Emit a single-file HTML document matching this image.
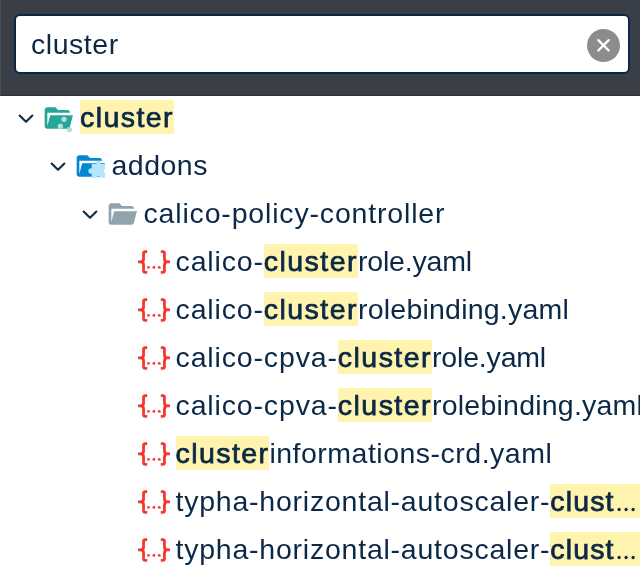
<!DOCTYPE html>
<html><head><meta charset="utf-8">
<style>
html,body{margin:0;padding:0;}
body{width:640px;height:576px;overflow:hidden;background:#fff;position:relative;font-family:"Liberation Sans",sans-serif;color:#0b2846;}
#hdr{position:absolute;left:0;top:0;width:640px;height:95px;background:#3a3e46;}
#hdrline{position:absolute;left:0;top:95px;width:640px;height:1px;background:#2e3137;}
#hdrl{position:absolute;left:0;top:0;width:1px;height:95px;background:#4b4f54;}
#inp{position:absolute;left:14px;top:14px;width:611.6px;height:55.5px;border:2px solid #0a2846;border-radius:6px;background:#fff;}
#q{will-change:transform;position:absolute;left:31.27px;top:27px;font-size:28.5px;line-height:34px;letter-spacing:0.535px;white-space:nowrap;}
#clr{position:absolute;left:587px;top:29px;width:33px;height:33px;border-radius:50%;background:#8c8c8c;}
.row{position:absolute;left:0;width:640px;height:48px;will-change:transform;}
.chev{position:absolute;top:0;width:20px;height:48px;}
.ic{position:absolute;width:32px;height:32px;}
.t{position:absolute;top:4.2px;font-size:28.5px;line-height:34px;white-space:nowrap;}
.t b{font-weight:400;-webkit-text-stroke:0.75px #0b2846;background:#fff4af;display:inline-block;vertical-align:top;margin-top:-0.7px;padding-top:0.7px;height:34px;box-sizing:border-box;}
.t i{font-style:normal;}
</style></head><body>
<div id="hdr"></div>
<div id="hdrline"></div>
<div id="hdrl"></div>
<div id="inp"></div>
<div id="q">cluster</div>
<div id="clr"><svg width="33" height="33" viewBox="0 0 33 33"><path d="M11.3 11.1L21.7 21.5M21.7 11.1L11.3 21.5" stroke="#fff" stroke-width="2.3" stroke-linecap="round"/></svg></div>
<svg width="0" height="0" style="position:absolute">
<defs>
<path id="fo" d="M19 20H4a2 2 0 0 1-2-2V6c0-1.11.89-2 2-2h6l2 2h7a2 2 0 0 1 2 2H4v10l2.14-8h17.07l-2.28 8.5c-.23.87-1.01 1.5-1.93 1.5z"/>
<g id="ybr">
 <path d="M9.2 4.15H7.2Q4.15 4.15 4.15 7.2V12.6Q4.15 14.6 2.4 14.6H0V17.3H2.4Q4.15 17.3 4.15 19.3V24.8Q4.15 27.85 7.2 27.85H9.2V25.05H7.8Q6.95 25.05 6.95 24.2V18.7Q6.95 16.8 6.1 15.95Q6.95 15.1 6.95 13.2V7.8Q6.95 6.95 7.8 6.95H9.2Z" fill="#f23b2f"/>
 <path d="M9.2 4.15H7.2Q4.15 4.15 4.15 7.2V12.6Q4.15 14.6 2.4 14.6H0V17.3H2.4Q4.15 17.3 4.15 19.3V24.8Q4.15 27.85 7.2 27.85H9.2V25.05H7.8Q6.95 25.05 6.95 24.2V18.7Q6.95 16.8 6.1 15.95Q6.95 15.1 6.95 13.2V7.8Q6.95 6.95 7.8 6.95H9.2Z" transform="translate(32 0) scale(-1 1)" fill="#f23b2f"/>
 <circle cx="10.5" cy="21.4" r="1.35" fill="#f23b2f"/>
 <circle cx="15.9" cy="21.4" r="1.35" fill="#f23b2f"/>
 <circle cx="21.3" cy="21.4" r="1.35" fill="#f23b2f"/>
</g>
</defs>
</svg>
<div class="row" style="top:96px">
 <svg class="chev" style="left:0;width:40px" viewBox="0 0 40 48"><path d="M19.6 19.5L26.0 25.7L32.4 19.5" fill="none" stroke="#0b2846" stroke-width="2.05" stroke-linecap="round" stroke-linejoin="round"/></svg>
 <svg class="ic" style="left:42px;top:6px" viewBox="0 0 24 24"><use href="#fo" fill="#26a69a"/><circle cx="16.5" cy="13" r="2" fill="#b2dfdb"/><circle cx="13.8" cy="18.2" r="2" fill="#b2dfdb"/><circle cx="20.5" cy="20.7" r="2" fill="#b2dfdb"/></svg>
 <div class="t" id="r0" style="left:80px"><b style="letter-spacing:1.437px">cluster</b></div>
</div>
<div class="row" style="top:144px">
 <svg class="chev" style="left:0;width:72px" viewBox="0 0 72 48"><path d="M51.6 19.5L58.0 25.7L64.4 19.5" fill="none" stroke="#0b2846" stroke-width="2.05" stroke-linecap="round" stroke-linejoin="round"/></svg>
 <svg class="ic" style="left:74px;top:6px" viewBox="0 0 32 32"><use href="#fo" fill="#0288d1" transform="scale(1.3333)"/><path fill="#b3e5fc" d="M17.7 14.1H22.4A2.3 2.3 0 1 1 26.4 14.1H31.1V19.3A1.6 1.6 0 0 0 31.1 22.7V27.7H26.2A1.8 1.8 0 0 0 22.6 27.7H17.7V23.6A2.7 2.7 0 1 1 17.7 18.4Z"/></svg>
 <div class="t" id="r1" style="left:111.43px"><i style="letter-spacing:0.502px">addons</i></div>
</div>
<div class="row" style="top:192px">
 <svg class="chev" style="left:0;width:104px" viewBox="0 0 104 48"><path d="M83.6 19.5L90.0 25.7L96.4 19.5" fill="none" stroke="#0b2846" stroke-width="2.05" stroke-linecap="round" stroke-linejoin="round"/></svg>
 <svg class="ic" style="left:106px;top:6px" viewBox="0 0 24 24"><use href="#fo" fill="#90a4ae"/></svg>
 <div class="t" id="r2" style="left:143.56px"><i style="letter-spacing:0.826px">calico-policy-controller</i></div>
</div>
<div class="row" style="top:240px">
 <svg class="ic" style="left:138px;top:6px" viewBox="0 0 32 32"><use href="#ybr"/></svg>
 <div class="t" id="f0" style="left:175.55px"><i style="letter-spacing:0.836px">calico-</i><b style="letter-spacing:1.467px">cluster</b><i style="letter-spacing:-0.180px">role.yaml</i></div>
</div>
<div class="row" style="top:288px">
 <svg class="ic" style="left:138px;top:6px" viewBox="0 0 32 32"><use href="#ybr"/></svg>
 <div class="t" id="f1" style="left:175.55px"><i style="letter-spacing:0.836px">calico-</i><b style="letter-spacing:1.467px">cluster</b><i style="letter-spacing:0.221px">rolebinding.yaml</i></div>
</div>
<div class="row" style="top:336px">
 <svg class="ic" style="left:138px;top:6px" viewBox="0 0 32 32"><use href="#ybr"/></svg>
 <div class="t" id="f2" style="left:175.55px"><i style="letter-spacing:0.851px">calico-cpva-</i><b style="letter-spacing:1.467px">cluster</b><i style="letter-spacing:-0.180px">role.yaml</i></div>
</div>
<div class="row" style="top:384px">
 <svg class="ic" style="left:138px;top:6px" viewBox="0 0 32 32"><use href="#ybr"/></svg>
 <div class="t" id="f3" style="left:175.55px"><i style="letter-spacing:0.851px">calico-cpva-</i><b style="letter-spacing:1.467px">cluster</b><i style="letter-spacing:0.221px">rolebinding.yaml</i></div>
</div>
<div class="row" style="top:432px">
 <svg class="ic" style="left:138px;top:6px" viewBox="0 0 32 32"><use href="#ybr"/></svg>
 <div class="t" id="f4" style="left:175.6px"><b style="letter-spacing:1.406px">cluster</b><i style="letter-spacing:0.497px">informations-crd.yaml</i></div>
</div>
<div class="row" style="top:480px">
 <svg class="ic" style="left:138px;top:6px" viewBox="0 0 32 32"><use href="#ybr"/></svg>
 <div class="t" id="f5" style="left:175.55px"><i style="letter-spacing:0.767px">typha-horizontal-autoscaler-</i><b style="letter-spacing:1.165px;width:100px;position:relative">clust<svg style="position:absolute;left:0;top:0" width="100" height="34"><circle cx="69.10" cy="25.5" r="1.65" fill="#0b2846"/><circle cx="76.10" cy="25.5" r="1.65" fill="#0b2846"/><circle cx="83.10" cy="25.5" r="1.65" fill="#0b2846"/></svg></b></div>
</div>
<div class="row" style="top:528px">
 <svg class="ic" style="left:138px;top:6px" viewBox="0 0 32 32"><use href="#ybr"/></svg>
 <div class="t" id="f6" style="left:175.55px"><i style="letter-spacing:0.767px">typha-horizontal-autoscaler-</i><b style="letter-spacing:1.165px;width:100px;position:relative">clust<svg style="position:absolute;left:0;top:0" width="100" height="34"><circle cx="69.10" cy="25.5" r="1.65" fill="#0b2846"/><circle cx="76.10" cy="25.5" r="1.65" fill="#0b2846"/><circle cx="83.10" cy="25.5" r="1.65" fill="#0b2846"/></svg></b></div>
</div>
</body></html>
